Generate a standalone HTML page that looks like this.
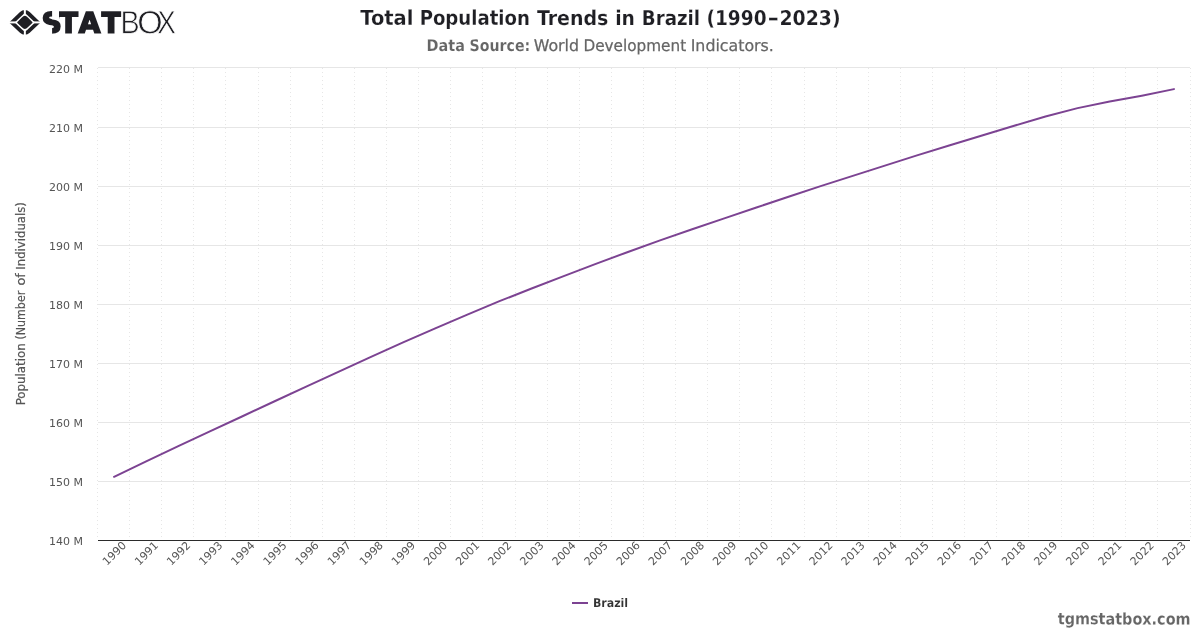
<!DOCTYPE html>
<html lang="en"><head><meta charset="utf-8">
<title>Total Population Trends in Brazil (1990-2023)</title>
<style>
html,body{margin:0;padding:0;background:#fff;}
body{width:1200px;height:630px;overflow:hidden;}
svg{display:block;font-family:"DejaVu Sans","Liberation Sans",sans-serif;}
</style></head><body>
<svg width="1200" height="630" viewBox="0 0 1200 630">
<rect x="0" y="0" width="1200" height="630" fill="#ffffff"/>
<g stroke="#e6e6e6" stroke-width="1" stroke-dasharray="1,3" fill="none">
<path d="M97.5 68V540"/>
<path d="M129.5 68V540"/>
<path d="M161.5 68V540"/>
<path d="M193.5 68V540"/>
<path d="M225.5 68V540"/>
<path d="M258.5 68V540"/>
<path d="M290.5 68V540"/>
<path d="M322.5 68V540"/>
<path d="M354.5 68V540"/>
<path d="M386.5 68V540"/>
<path d="M418.5 68V540"/>
<path d="M450.5 68V540"/>
<path d="M482.5 68V540"/>
<path d="M515.5 68V540"/>
<path d="M547.5 68V540"/>
<path d="M579.5 68V540"/>
<path d="M611.5 68V540"/>
<path d="M643.5 68V540"/>
<path d="M675.5 68V540"/>
<path d="M707.5 68V540"/>
<path d="M739.5 68V540"/>
<path d="M771.5 68V540"/>
<path d="M804.5 68V540"/>
<path d="M836.5 68V540"/>
<path d="M868.5 68V540"/>
<path d="M900.5 68V540"/>
<path d="M932.5 68V540"/>
<path d="M964.5 68V540"/>
<path d="M996.5 68V540"/>
<path d="M1028.5 68V540"/>
<path d="M1061.5 68V540"/>
<path d="M1093.5 68V540"/>
<path d="M1125.5 68V540"/>
<path d="M1157.5 68V540"/>
<path d="M1190.5 68V540"/>
</g>
<g stroke="#e6e6e6" stroke-width="1" fill="none">
<path d="M98 67.5H1190"/>
<path d="M98 127.5H1190"/>
<path d="M98 186.5H1190"/>
<path d="M98 245.5H1190"/>
<path d="M98 304.5H1190"/>
<path d="M98 363.5H1190"/>
<path d="M98 422.5H1190"/>
<path d="M98 481.5H1190"/>
<path d="M98 540.5H1190"/>
</g>
<path d="M98 540.5H1190" stroke="#2b2b2b" stroke-width="1" fill="none"/>
<path d="M114.06 476.83 L146.18 461.31 L178.29 446.19 L210.41 431.20 L242.53 416.22 L274.65 401.26 L306.76 386.38 L338.88 371.57 L371.00 356.87 L403.12 342.43 L435.24 328.35 L467.35 314.55 L499.47 301.19 L531.59 288.49 L563.71 276.14 L595.82 263.90 L627.94 251.96 L660.06 240.40 L692.18 229.23 L724.29 218.35 L756.41 207.51 L788.53 196.71 L820.65 186.13 L852.76 175.84 L884.88 165.59 L917.00 155.39 L949.12 145.53 L981.24 135.82 L1013.35 126.02 L1045.47 116.48 L1077.59 108.14 L1109.71 101.48 L1141.82 95.65 L1173.94 89.11" fill="none" stroke="#7c4392" stroke-width="2" stroke-linejoin="round" stroke-linecap="round"/>
<text transform="rotate(0.04 600 24.95)" y="24.95" font-size="20.3" font-weight="bold" fill="#1f1f24" stroke="#fff" stroke-width="0.15"><tspan x="360.20" textLength="53.18" lengthAdjust="spacingAndGlyphs">Total</tspan> <tspan x="419.64" textLength="110.31" lengthAdjust="spacingAndGlyphs">Population</tspan> <tspan x="536.91" textLength="71.47" lengthAdjust="spacingAndGlyphs">Trends</tspan> <tspan x="615.18" textLength="19.71" lengthAdjust="spacingAndGlyphs">in</tspan> <tspan x="641.83" textLength="58.28" lengthAdjust="spacingAndGlyphs">Brazil</tspan> <tspan x="706.43" textLength="60.12" lengthAdjust="spacingAndGlyphs">(1990</tspan><tspan x="767.48" textLength="11.52" lengthAdjust="spacingAndGlyphs">-</tspan><tspan x="779.50" textLength="61.12" lengthAdjust="spacingAndGlyphs">2023)</tspan></text>
<text transform="rotate(0.04 600 51)" y="51" font-size="16" fill="#666"><tspan font-weight="bold" stroke="#fff" stroke-width="0.15"><tspan x="426.58" textLength="38.29" lengthAdjust="spacingAndGlyphs">Data</tspan> <tspan x="469.47" textLength="60.72" lengthAdjust="spacingAndGlyphs">Source:</tspan></tspan> <tspan stroke="#666" stroke-width="0.25"><tspan x="533.72" textLength="45.32" lengthAdjust="spacingAndGlyphs">World</tspan> <tspan x="583.46" textLength="102.66" lengthAdjust="spacingAndGlyphs">Development</tspan> <tspan x="690.69" textLength="83.16" lengthAdjust="spacingAndGlyphs">Indicators.</tspan></tspan></text>
<g font-size="11" fill="#555" text-anchor="end">
<text transform="translate(83 73) scale(1.0 1)">220 M</text>
<text transform="translate(83 132) scale(1.0 1)">210 M</text>
<text transform="translate(83 191) scale(1.0 1)">200 M</text>
<text transform="translate(83 250) scale(1.0 1)">190 M</text>
<text transform="translate(83 309) scale(1.0 1)">180 M</text>
<text transform="translate(83 368) scale(1.0 1)">170 M</text>
<text transform="translate(83 427) scale(1.0 1)">160 M</text>
<text transform="translate(83 486) scale(1.0 1)">150 M</text>
<text transform="translate(83 545) scale(1.0 1)">140 M</text>
</g>
<text transform="translate(24.5 404.1) rotate(-90)" y="0" font-size="12" fill="#555" stroke="#555" stroke-width="0.2"><tspan x="-1.26" textLength="62.03" lengthAdjust="spacingAndGlyphs">Population</tspan> <tspan x="64.60" textLength="48.75" lengthAdjust="spacingAndGlyphs">(Number</tspan> <tspan x="118.59" textLength="12.38" lengthAdjust="spacingAndGlyphs">of</tspan> <tspan x="134.44" textLength="67.54" lengthAdjust="spacingAndGlyphs">Individuals)</tspan></text>
<g font-size="11" fill="#555" text-anchor="end">
<text transform="translate(126.86 546.1) rotate(-45) scale(1.0 1)">1990</text>
<text transform="translate(158.98 546.1) rotate(-45) scale(1.0 1)">1991</text>
<text transform="translate(191.09 546.1) rotate(-45) scale(1.0 1)">1992</text>
<text transform="translate(223.21 546.1) rotate(-45) scale(1.0 1)">1993</text>
<text transform="translate(255.33 546.1) rotate(-45) scale(1.0 1)">1994</text>
<text transform="translate(287.45 546.1) rotate(-45) scale(1.0 1)">1995</text>
<text transform="translate(319.56 546.1) rotate(-45) scale(1.0 1)">1996</text>
<text transform="translate(351.68 546.1) rotate(-45) scale(1.0 1)">1997</text>
<text transform="translate(383.80 546.1) rotate(-45) scale(1.0 1)">1998</text>
<text transform="translate(415.92 546.1) rotate(-45) scale(1.0 1)">1999</text>
<text transform="translate(448.04 546.1) rotate(-45) scale(1.0 1)">2000</text>
<text transform="translate(480.15 546.1) rotate(-45) scale(1.0 1)">2001</text>
<text transform="translate(512.27 546.1) rotate(-45) scale(1.0 1)">2002</text>
<text transform="translate(544.39 546.1) rotate(-45) scale(1.0 1)">2003</text>
<text transform="translate(576.51 546.1) rotate(-45) scale(1.0 1)">2004</text>
<text transform="translate(608.62 546.1) rotate(-45) scale(1.0 1)">2005</text>
<text transform="translate(640.74 546.1) rotate(-45) scale(1.0 1)">2006</text>
<text transform="translate(672.86 546.1) rotate(-45) scale(1.0 1)">2007</text>
<text transform="translate(704.98 546.1) rotate(-45) scale(1.0 1)">2008</text>
<text transform="translate(737.09 546.1) rotate(-45) scale(1.0 1)">2009</text>
<text transform="translate(769.21 546.1) rotate(-45) scale(1.0 1)">2010</text>
<text transform="translate(801.33 546.1) rotate(-45) scale(1.0 1)">2011</text>
<text transform="translate(833.45 546.1) rotate(-45) scale(1.0 1)">2012</text>
<text transform="translate(865.56 546.1) rotate(-45) scale(1.0 1)">2013</text>
<text transform="translate(897.68 546.1) rotate(-45) scale(1.0 1)">2014</text>
<text transform="translate(929.80 546.1) rotate(-45) scale(1.0 1)">2015</text>
<text transform="translate(961.92 546.1) rotate(-45) scale(1.0 1)">2016</text>
<text transform="translate(994.04 546.1) rotate(-45) scale(1.0 1)">2017</text>
<text transform="translate(1026.15 546.1) rotate(-45) scale(1.0 1)">2018</text>
<text transform="translate(1058.27 546.1) rotate(-45) scale(1.0 1)">2019</text>
<text transform="translate(1090.39 546.1) rotate(-45) scale(1.0 1)">2020</text>
<text transform="translate(1122.51 546.1) rotate(-45) scale(1.0 1)">2021</text>
<text transform="translate(1154.62 546.1) rotate(-45) scale(1.0 1)">2022</text>
<text transform="translate(1186.74 546.1) rotate(-45) scale(1.0 1)">2023</text>
</g>
<path d="M572 603H588" stroke="#7c4392" stroke-width="2" fill="none"/>
<text transform="rotate(0.04 610 606.9)" y="606.9" font-size="12" font-weight="bold" fill="#333" stroke="#fff" stroke-width="0.1"><tspan x="592.94" textLength="35.15" lengthAdjust="spacingAndGlyphs">Brazil</tspan></text>
<text transform="rotate(0.04 1124 624.4)" y="624.4" font-size="16" font-weight="bold" fill="#666" stroke="#fff" stroke-width="0.15"><tspan x="1057.78" textLength="132.81" lengthAdjust="spacingAndGlyphs">tgmstatbox.com</tspan></text>
<g id="logo">
<path d="M9.10 22.40L19.99 12.00Q22.14 9.95 24.85 9.95Q27.56 9.95 29.71 12.00L40.60 22.40L29.71 32.80Q27.56 34.85 24.85 34.85Q22.14 34.85 19.99 32.80Z" fill="#1f1f24"/>
<rect x="23.85" y="8.95" width="2.00" height="26.90" fill="#fff"/>
<rect x="8.10" y="21.40" width="33.50" height="2.00" fill="#fff"/>
<path d="M14.65 22.40L22.54 14.90Q24.07 13.45 24.85 13.45Q25.63 13.45 27.16 14.90L35.05 22.40L27.16 29.90Q25.63 31.35 24.85 31.35Q24.07 31.35 22.54 29.90Z" fill="#fff"/>
<path d="M17.40 21.90L21.60 17.70Q23.45 15.85 24.85 15.85Q26.25 15.85 28.10 17.70L32.30 21.90Q32.80 22.40 32.30 22.90L28.10 27.10Q26.25 28.95 24.85 28.95Q23.45 28.95 21.60 27.10L17.40 22.90Q16.90 22.40 17.40 21.90Z" fill="#1f1f24"/>
<text transform="rotate(0.04 100 33)" fill="#1f1f24" stroke-linejoin="miter"><tspan font-family="DejaVu Sans, sans-serif" font-weight="bold" stroke="#1f1f24" stroke-width="1.7"><tspan x="41.6" y="32.6" font-size="27.9" textLength="20.4" lengthAdjust="spacingAndGlyphs">S</tspan><tspan x="59.3" y="32.75" font-size="28.2" textLength="18.6" lengthAdjust="spacingAndGlyphs">T</tspan><tspan x="78.75" y="32.75" font-size="28.2" textLength="21.6" lengthAdjust="spacingAndGlyphs">A</tspan><tspan x="101.65" y="32.75" font-size="28.2" textLength="18.7" lengthAdjust="spacingAndGlyphs">T</tspan></tspan><tspan font-family="Liberation Sans, sans-serif" font-weight="normal" stroke="#fff" stroke-width="0.7"><tspan x="120.4" y="33.3" font-size="32.1" textLength="19.14" lengthAdjust="spacingAndGlyphs">B</tspan><tspan x="137.25" y="33.6" font-size="32.5" textLength="25.4" lengthAdjust="spacingAndGlyphs">O</tspan><tspan x="157.3" y="33.2" font-size="32.3" textLength="18.6" lengthAdjust="spacingAndGlyphs">X</tspan></tspan></text>
<rect x="52.1" y="9" width="6.9" height="10.4" fill="#fff"/><path d="M41 24.3L52.1 27.3V36H41Z" fill="#fff"/>
</g>
</svg>
</body></html>
